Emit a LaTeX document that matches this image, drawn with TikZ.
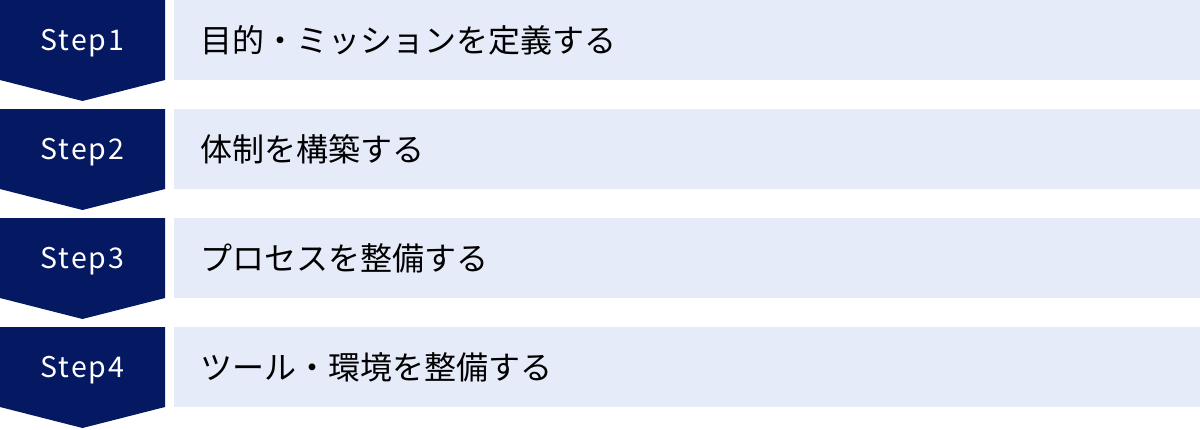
\documentclass[tikz,border=0pt]{standalone}
\usepackage{fontspec}
\setmainfont{Noto Sans CJK JP}
\definecolor{stepnavy}{HTML}{051862}
\definecolor{barblue}{HTML}{E5EBF9}

\begin{document}
\begin{tikzpicture}[x=1pt, y=1pt]
        \tikzstyle{steplabel}=[text=white,font=\fontsize{28.5}{34}\selectfont\addfontfeature{LetterSpace=7},inner sep=0pt]
        \tikzstyle{bar}=[fill=barblue,minimum width=1026pt,minimum height=80pt,inner sep=0pt,anchor=north west]
        \tikzstyle{task}=[font=\fontsize{32}{38}\selectfont,inner sep=0pt,anchor=west]
        \tikzstyle{chevron}=[fill=stepnavy]

        \useasboundingbox (0,0) rectangle (1200,-429);

        % step markers
        \fill[chevron] (0,0) -- (165,0) -- (165,-80) -- (82.5,-101) -- (0,-80) -- cycle;
        \fill[chevron] (0,-109) -- (165,-109) -- (165,-189) -- (82.5,-210) -- (0,-189) -- cycle;
        \fill[chevron] (0,-218) -- (165,-218) -- (165,-298) -- (82.5,-319) -- (0,-298) -- cycle;
        \fill[chevron] (0,-327) -- (165,-327) -- (165,-407) -- (82.5,-428) -- (0,-407) -- cycle;

        \node[steplabel] (S_1) at (82.5,-43)  {Step1};
        \node[steplabel] (S_2) at (82.5,-152) {Step2};
        \node[steplabel] (S_3) at (82.5,-261) {Step3};
        \node[steplabel] (S_4) at (82.5,-370) {Step4};

        % bars
        \node[bar] (B_1) at (174,0)    {};
        \node[bar] (B_2) at (174,-109) {};
        \node[bar] (B_3) at (174,-218) {};
        \node[bar] (B_4) at (174,-327) {};

        \node[task] (T_1) at ([xshift=26pt]B_1.west) {目的・ミッションを定義する};
        \node[task] (T_2) at ([xshift=26pt]B_2.west) {体制を構築する};
        \node[task] (T_3) at ([xshift=26pt]B_3.west) {プロセスを整備する};
        \node[task] (T_4) at ([xshift=26pt]B_4.west) {ツール・環境を整備する};
    \end{tikzpicture}
\end{document}
